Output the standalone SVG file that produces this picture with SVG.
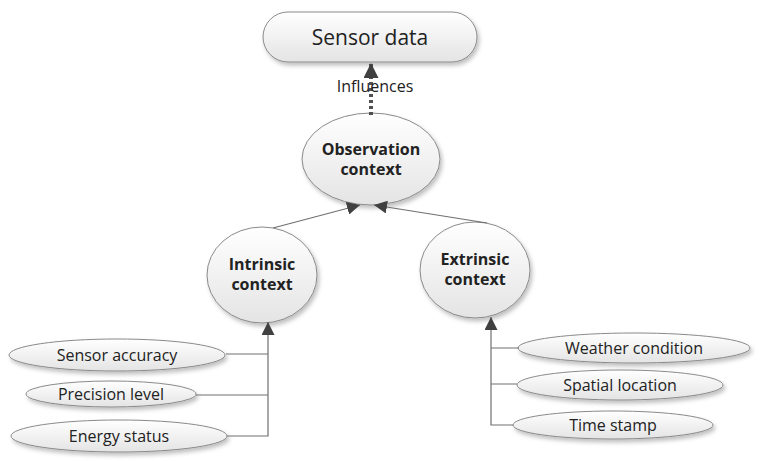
<svg xmlns="http://www.w3.org/2000/svg" width="760" height="461" viewBox="0 0 760 461">
<defs>
<linearGradient id="g" x1="0" y1="0" x2="0" y2="1"><stop offset="0" stop-color="#ffffff"/><stop offset="1" stop-color="#e4e4e4"/></linearGradient>
<filter id="sh" x="-10%" y="-10%" width="130%" height="140%"><feDropShadow dx="2" dy="3" stdDeviation="2" flood-color="#000" flood-opacity="0.25"/></filter>
<marker id="ar" viewBox="0 0 10 10" refX="10" refY="5" markerWidth="13" markerHeight="13" markerUnits="userSpaceOnUse" orient="auto"><path d="M0,0 L10,5 L0,10 z" fill="#404040"/></marker>
<marker id="ar2" viewBox="0 0 10 10" refX="10" refY="5" markerWidth="15" markerHeight="15" markerUnits="userSpaceOnUse" orient="auto"><path d="M0,0 L10,5 L0,10 z" fill="#404040"/></marker>
</defs>
<style>
.n{fill:url(#g);stroke:#8a8a8a;stroke-width:1;filter:url(#sh)}
.t{font-family:"Open Sans","DejaVu Sans",sans-serif;fill:#222;text-anchor:middle}
.b{font-weight:bold;font-size:16px}
.s{font-size:16px}
.c{fill:none;stroke:#707070;stroke-width:1.2}
</style>
<g id="sensor-data"><rect class="n" x="263" y="12" width="214" height="50" rx="25"/><text class="t" x="370" y="45" font-size="21">Sensor data</text></g>
<g id="observation"><ellipse class="n" cx="371" cy="159" rx="69" ry="46"/><text class="t b" x="371" y="155">Observation</text><text class="t b" x="371" y="175">context</text></g>
<g id="intrinsic"><ellipse class="n" cx="262" cy="275" rx="55" ry="48"/><text class="t b" x="262" y="270">Intrinsic</text><text class="t b" x="262" y="290">context</text></g>
<g id="extrinsic"><ellipse class="n" cx="475" cy="270" rx="55" ry="48"/><text class="t b" x="475" y="265">Extrinsic</text><text class="t b" x="475" y="285">context</text></g>
<g id="sensor-accuracy"><ellipse class="n" cx="117" cy="355" rx="108" ry="16"/><text class="t s" x="117" y="361">Sensor accuracy</text></g>
<g id="precision-level"><ellipse class="n" cx="111" cy="394" rx="85" ry="13"/><text class="t s" x="111" y="400">Precision level</text></g>
<g id="energy-status"><ellipse class="n" cx="119" cy="436" rx="108" ry="16"/><text class="t s" x="119" y="442">Energy status</text></g>
<g id="weather-condition"><ellipse class="n" cx="634" cy="348" rx="116" ry="15"/><text class="t s" x="634" y="354">Weather condition</text></g>
<g id="spatial-location"><ellipse class="n" cx="620" cy="385" rx="103" ry="15"/><text class="t s" x="620" y="391">Spatial location</text></g>
<g id="time-stamp"><ellipse class="n" cx="613" cy="425" rx="100" ry="14"/><text class="t s" x="613" y="431">Time stamp</text></g>
<g id="connectors">
<line x1="371" y1="115" x2="371" y2="63" stroke="#505050" stroke-width="4" stroke-dasharray="3,3" marker-end="url(#ar2)"/>
<text class="t s" x="375" y="92">Influences</text>
<line class="c" x1="273" y1="228" x2="360" y2="205" marker-end="url(#ar)"/>
<line class="c" x1="487" y1="223" x2="374" y2="205" marker-end="url(#ar)"/>
<path class="c" d="M226,354 H268 M196,395 H268 M227,436 H268 V322" marker-end="url(#ar)"/>
<path class="c" d="M519,348 H491 M517,384 H491 M513,425 H491 V317" marker-end="url(#ar)"/>
</g>
</svg>
